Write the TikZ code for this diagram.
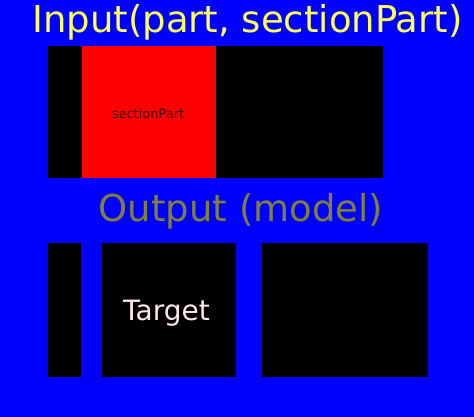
\documentclass[tikz,border=0pt]{standalone}
\usepackage{fontspec}
\setmainfont{DejaVu Sans}
\definecolor{bgblue}{RGB}{0,0,255}
\definecolor{titleyellow}{RGB}{255,255,90}
\definecolor{olivetext}{RGB}{128,128,56}
\definecolor{targettext}{RGB}{255,232,232}
\definecolor{redblock}{RGB}{255,0,0}
\definecolor{darktext}{RGB}{60,0,0}
\begin{document}
\begin{tikzpicture}[x=1pt,y=-1pt,
  block/.style={fill=black,draw=none},
  lbl/.style={inner sep=0pt,anchor=base}]
\fill[bgblue] (0,0) rectangle (474,417);
\useasboundingbox (0,0) rectangle (474,417);
% top
\fill[black] (48,46) rectangle (383,178);
\fill[redblock] (82,46) rectangle (216,178);
\node[lbl,text=titleyellow,font=\fontsize{37}{40}\selectfont] (title) at (247.5,33) {Input(part, sectionPart)};
\node[lbl,text=darktext,font=\fontsize{13}{15}\selectfont] (sp) at (148,119) {sectionPart};
% output
\node[lbl,text=olivetext,font=\fontsize{37}{40}\selectfont] (out) at (241,221) {Output (model)};
\fill[black] (48,243) rectangle (81,377);
\fill[black] (102,243) rectangle (236,377);
\fill[black] (262,243) rectangle (428,377);
\node[lbl,text=targettext,font=\fontsize{28}{30}\selectfont] (tg) at (166.5,320) {Target};
\end{tikzpicture}
\end{document}
